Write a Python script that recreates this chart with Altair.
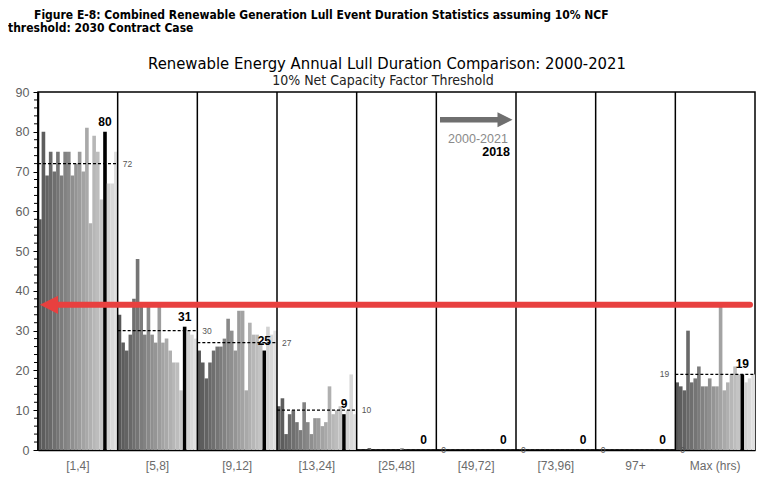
import altair as alt
import pandas as pd

groups = ["[1,4]", "[5,8]", "[9,12]", "[13,24]", "[25,48]", "[49,72]", "[73,96]", "97+", "Max (hrs)"]
years = list(range(2000, 2022))

v_1_4 = [58, 80, 69, 75, 70, 75, 69, 75, 75, 69, 72, 75, 70, 81, 57, 79, 75, 63, 80, 67, 67, 75]
v_5_8 = [34, 27, 25, 29, 38, 48, 36, 29, 36, 29, 27, 36, 27, 28, 25, 22, 22, 15, 31, 30, 29, 28]
v_9_12 = [25, 22, 18, 22, 25, 26, 26, 28, 33, 30, 25, 35, 35, 15, 32, 29, 29, 27, 25, 31, 29, 30]
v_13_24 = [11, 13, 4, 9, 10, 7, 5, 12, 7, 4, 8, 8, 6, 7, 16, 9, 10, 11, 9, 10, 19, 9]
v_25_48 = [0, 0, 0, 0.5, 0, 0, 0, 0, 0, 0, 0, 0, 0.5, 0, 0, 0, 0, 0, 0, 0, 0, 0]
v_49_72 = [0] * 22
v_73_96 = [0] * 22
v_97 = [0] * 22
v_max = [17, 16, 15, 30, 17, 18, 21, 16, 16, 18, 16, 16, 36, 15, 17, 19, 21, 19, 19, 17, 18, 19]

averages = [72, 30, 27, 10, 0, 0, 0, 0, 19]
highlight_year = 2018

y_major = list(range(0, 91, 10))
y_minor = [v for v in range(0, 91, 2) if v % 10 != 0]

title_text = "Renewable Energy Annual Lull Duration Comparison: 2000-2021"
subtitle_text = "10% Net Capacity Factor Threshold"
caption_lines = ["Figure E-8: Combined Renewable Generation Lull Event Duration Statistics assuming 10% NCF",
                 "threshold: 2030 Contract Case"]

series = [v_1_4, v_5_8, v_9_12, v_13_24, v_25_48, v_49_72, v_73_96, v_97, v_max]

rows = []
for g, vals in zip(groups, series):
    for yr, v in zip(years, vals):
        rows.append({"group": g, "year": yr, "value": v})
df = pd.DataFrame(rows)
gdf = pd.DataFrame({"group": groups, "avg": averages})

SANS = "Liberation Sans, Arial, sans-serif"
NARROW = "Liberation Sans Narrow, DejaVu Sans Condensed, sans-serif"

x_scale = alt.Scale(paddingInner=0, paddingOuter=0)
y_scale = alt.Scale(domain=[0, 90], nice=False)

x_axis = alt.Axis(title=None, labelAngle=0, ticks=False, domainColor="black", domainWidth=1.5,
                  labelColor="#6b6b6b", labelFontSize=12, labelPadding=10, labelFont=SANS, grid=False)
y_axis = alt.Axis(title=None, values=y_major, labelOverlap=False, labelFlush=False,
                  grid=False, domainColor="black", domainWidth=1.5, tickColor="black",
                  tickSize=5, tickWidth=1, labelColor="#5f5f5f", labelFontSize=12.5,
                  labelPadding=4, labelFont=SANS)


def Y(field):
    return alt.Y(field, scale=y_scale, axis=y_axis)


X = alt.X("group:N", sort=groups, scale=x_scale, axis=x_axis)
XO = alt.XOffset("year:O", scale=alt.Scale(paddingInner=0, paddingOuter=0))

bars = alt.Chart(df).mark_bar().encode(
    x=X,
    xOffset=XO,
    y=Y("value:Q"),
    color=alt.condition(
        f"datum.year == {highlight_year}",
        alt.value("black"),
        alt.Color("year:Q", scale=alt.Scale(range=["#575757", "#e0e0e0"]), legend=None),
    ),
)

minor_ticks = alt.Chart(pd.DataFrame({"value": y_minor})).mark_rule(color="black", strokeWidth=1).encode(
    y=Y("value:Q"), x=alt.value(-4), x2=alt.value(0)
)

seps = alt.Chart(gdf).mark_rule(color="black", strokeWidth=1.5).encode(
    x=alt.X("group:N", sort=groups, bandPosition=0)
)

avg_rules = alt.Chart(gdf).mark_rule(color="black", strokeWidth=1.2, strokeDash=[3, 2]).encode(
    x=alt.X("group:N", sort=groups, bandPosition=0),
    x2=alt.X2("group", bandPosition=1),
    y=Y("avg:Q"),
)

avg_labels_r = alt.Chart(gdf).transform_filter("datum.group != 'Max (hrs)'").mark_text(
    align="left", baseline="middle", dx=5, fontSize=8.5, color="#555", font=SANS
).encode(x=alt.X("group:N", sort=groups, bandPosition=1), y=Y("avg:Q"), text="avg:Q")

avg_labels_l = alt.Chart(gdf).transform_filter("datum.group == 'Max (hrs)'").mark_text(
    align="right", baseline="middle", dx=-6, fontSize=8.5, color="#555", font=SANS
).encode(x=alt.X("group:N", sort=groups, bandPosition=0), y=Y("avg:Q"), text="avg:Q")

hl_labels = alt.Chart(df).transform_filter(f"datum.year == {highlight_year}").mark_text(
    baseline="bottom", dy=-3, fontSize=12, fontWeight="bold", color="black", font=SANS
).encode(x=X, xOffset=XO, y=Y("value:Q"), text="value:Q")

# red arrow at the longest-lull level
red_level = 36.5
red_line = alt.Chart(pd.DataFrame({"value": [red_level]})).mark_rule(
    color="#e8403f", strokeWidth=6, strokeCap="round"
).encode(y=Y("value:Q"), x=alt.value(18), x2=alt.value(712))
red_head = alt.Chart(pd.DataFrame({"value": [red_level]})).mark_point(
    shape="M-1,0L1,-1L1,1Z", filled=True, color="#e8403f", opacity=1, size=330
).encode(y=Y("value:Q"), x=alt.value(11))

# grey legend arrow
grey_level = 83
grey_line = alt.Chart(pd.DataFrame({"value": [grey_level]})).mark_rule(
    color="#6f6f6f", strokeWidth=5.5
).encode(y=Y("value:Q"), x=alt.value(402), x2=alt.value(462))
grey_head = alt.Chart(pd.DataFrame({"value": [grey_level]})).mark_point(
    shape="M1,0L-1,-1L-1,1Z", filled=True, color="#6f6f6f", opacity=1, size=225
).encode(y=Y("value:Q"), x=alt.value(467))
legend_years = alt.Chart(pd.DataFrame({"t": ["2000-2021"], "value": [78.3]})).mark_text(
    fontSize=12.5, color="#8a8a8a", font=SANS, align="center", baseline="middle"
).encode(y=Y("value:Q"), x=alt.value(440), text="t:N")
legend_hl = alt.Chart(pd.DataFrame({"t": [str(highlight_year)], "value": [74.8]})).mark_text(
    fontSize=12.5, fontWeight="bold", color="black", font=SANS, align="right", baseline="middle"
).encode(y=Y("value:Q"), x=alt.value(472), text="t:N")

caption1 = alt.Chart(pd.DataFrame({"t": [caption_lines[0]]})).mark_text(
    fontSize=12, fontWeight="bold", font=NARROW, align="left", baseline="middle", color="black"
).encode(text="t:N", x=alt.value(-4), y=alt.value(-77))
caption2 = alt.Chart(pd.DataFrame({"t": [caption_lines[1]]})).mark_text(
    fontSize=12, fontWeight="bold", font=NARROW, align="left", baseline="middle", color="black"
).encode(text="t:N", x=alt.value(-30), y=alt.value(-64))

title_mark = alt.Chart(pd.DataFrame({"t": [title_text]})).mark_text(
    fontSize=16.5, font=NARROW, align="center", baseline="middle", color="black"
).encode(text="t:N", x=alt.value(349), y=alt.value(-28))
subtitle_mark = alt.Chart(pd.DataFrame({"t": [subtitle_text]})).mark_text(
    fontSize=14, font=NARROW, align="center", baseline="middle", color="#222"
).encode(text="t:N", x=alt.value(345), y=alt.value(-11))

chart = alt.layer(
    bars, minor_ticks, seps, avg_rules, avg_labels_r, avg_labels_l, hl_labels,
    red_line, red_head, grey_line, grey_head, legend_years, legend_hl,
    caption1, caption2, title_mark, subtitle_mark,
).properties(
    width=717,
    height=358,
    autosize=alt.AutoSizeParams(type="none"),
    padding={"left": 30, "top": 84, "right": 4, "bottom": 28},
).configure_view(stroke="black", strokeWidth=1.5)

chart.save("out.html", embed_options={"renderer": "svg", "actions": False})
